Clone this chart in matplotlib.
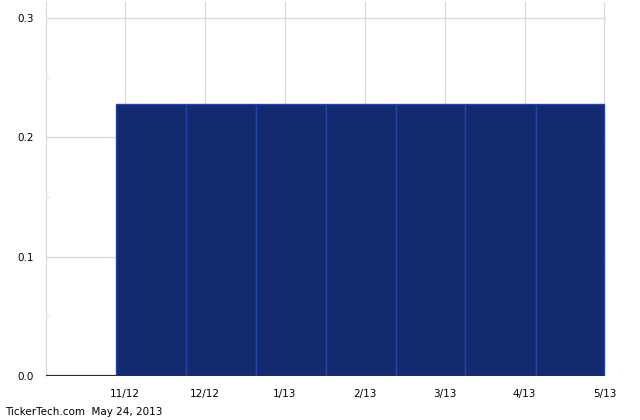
import matplotlib
matplotlib.use("Agg")
import matplotlib.pyplot as plt
import numpy as np

# x positions in month units (0 = 11/12)
month_labels = ["11/12", "12/12", "1/13", "2/13", "3/13", "4/13", "5/13"]
seg_starts = [-0.99, -0.11, 0.76, 1.64, 2.51, 3.39, 4.26, 5.14]
seg_end = 6.0
amounts = [0.0, 0.228, 0.228, 0.228, 0.228, 0.228, 0.228, 0.228]

fill_col = "#132a70"
edge_col = "#2442ac"
grid_col = "#d9d9d9"

fig = plt.figure(figsize=(6.4, 4.2), dpi=100)
ax = fig.add_axes([46 / 640, 1 - 376 / 420, (606 - 46) / 640, 374 / 420])

edges = seg_starts + [seg_end]
widths = np.diff(edges)
for x0, w, a in zip(seg_starts, widths, amounts):
    if a == 0:
        ax.plot([x0, x0 + w], [0, 0], color=fill_col, lw=1.6, solid_capstyle="butt", zorder=3)
    else:
        ax.bar(x0, a, width=w, align="edge", color=fill_col, edgecolor=edge_col,
               linewidth=1.0, zorder=3)

ax.set_xlim(seg_starts[0], seg_end + 0.02)
ax.set_ylim(0, 0.3134)

ax.set_xticks(range(len(month_labels)))
ax.set_xticklabels(month_labels)
ax.set_yticks([0.0, 0.1, 0.2, 0.3])
ax.set_yticklabels(["0.0", "0.1", "0.2", "0.3"])
ax.set_yticks([0.05, 0.15, 0.25], minor=True)
ax.set_xticks(np.arange(-0.5, 6, 1.0), minor=True)

ax.grid(True, which="major", color=grid_col, lw=0.9, zorder=0)
ax.tick_params(which="major", length=0, labelsize=7.5, colors="black")
ax.tick_params(axis="y", which="major", pad=9)
ax.tick_params(axis="x", which="major", pad=9)
ax.tick_params(which="minor", direction="in", length=2, color=grid_col)

for side in ["top", "right", "bottom"]:
    ax.spines[side].set_visible(False)
ax.spines["left"].set_color(grid_col)
ax.spines["left"].set_linewidth(0.9)

fig.text(5 / 640, 1 - 412 / 420, "TickerTech.com  May 24, 2013", fontsize=7.5,
         ha="left", va="center")

fig.savefig("out.png", dpi=100)
